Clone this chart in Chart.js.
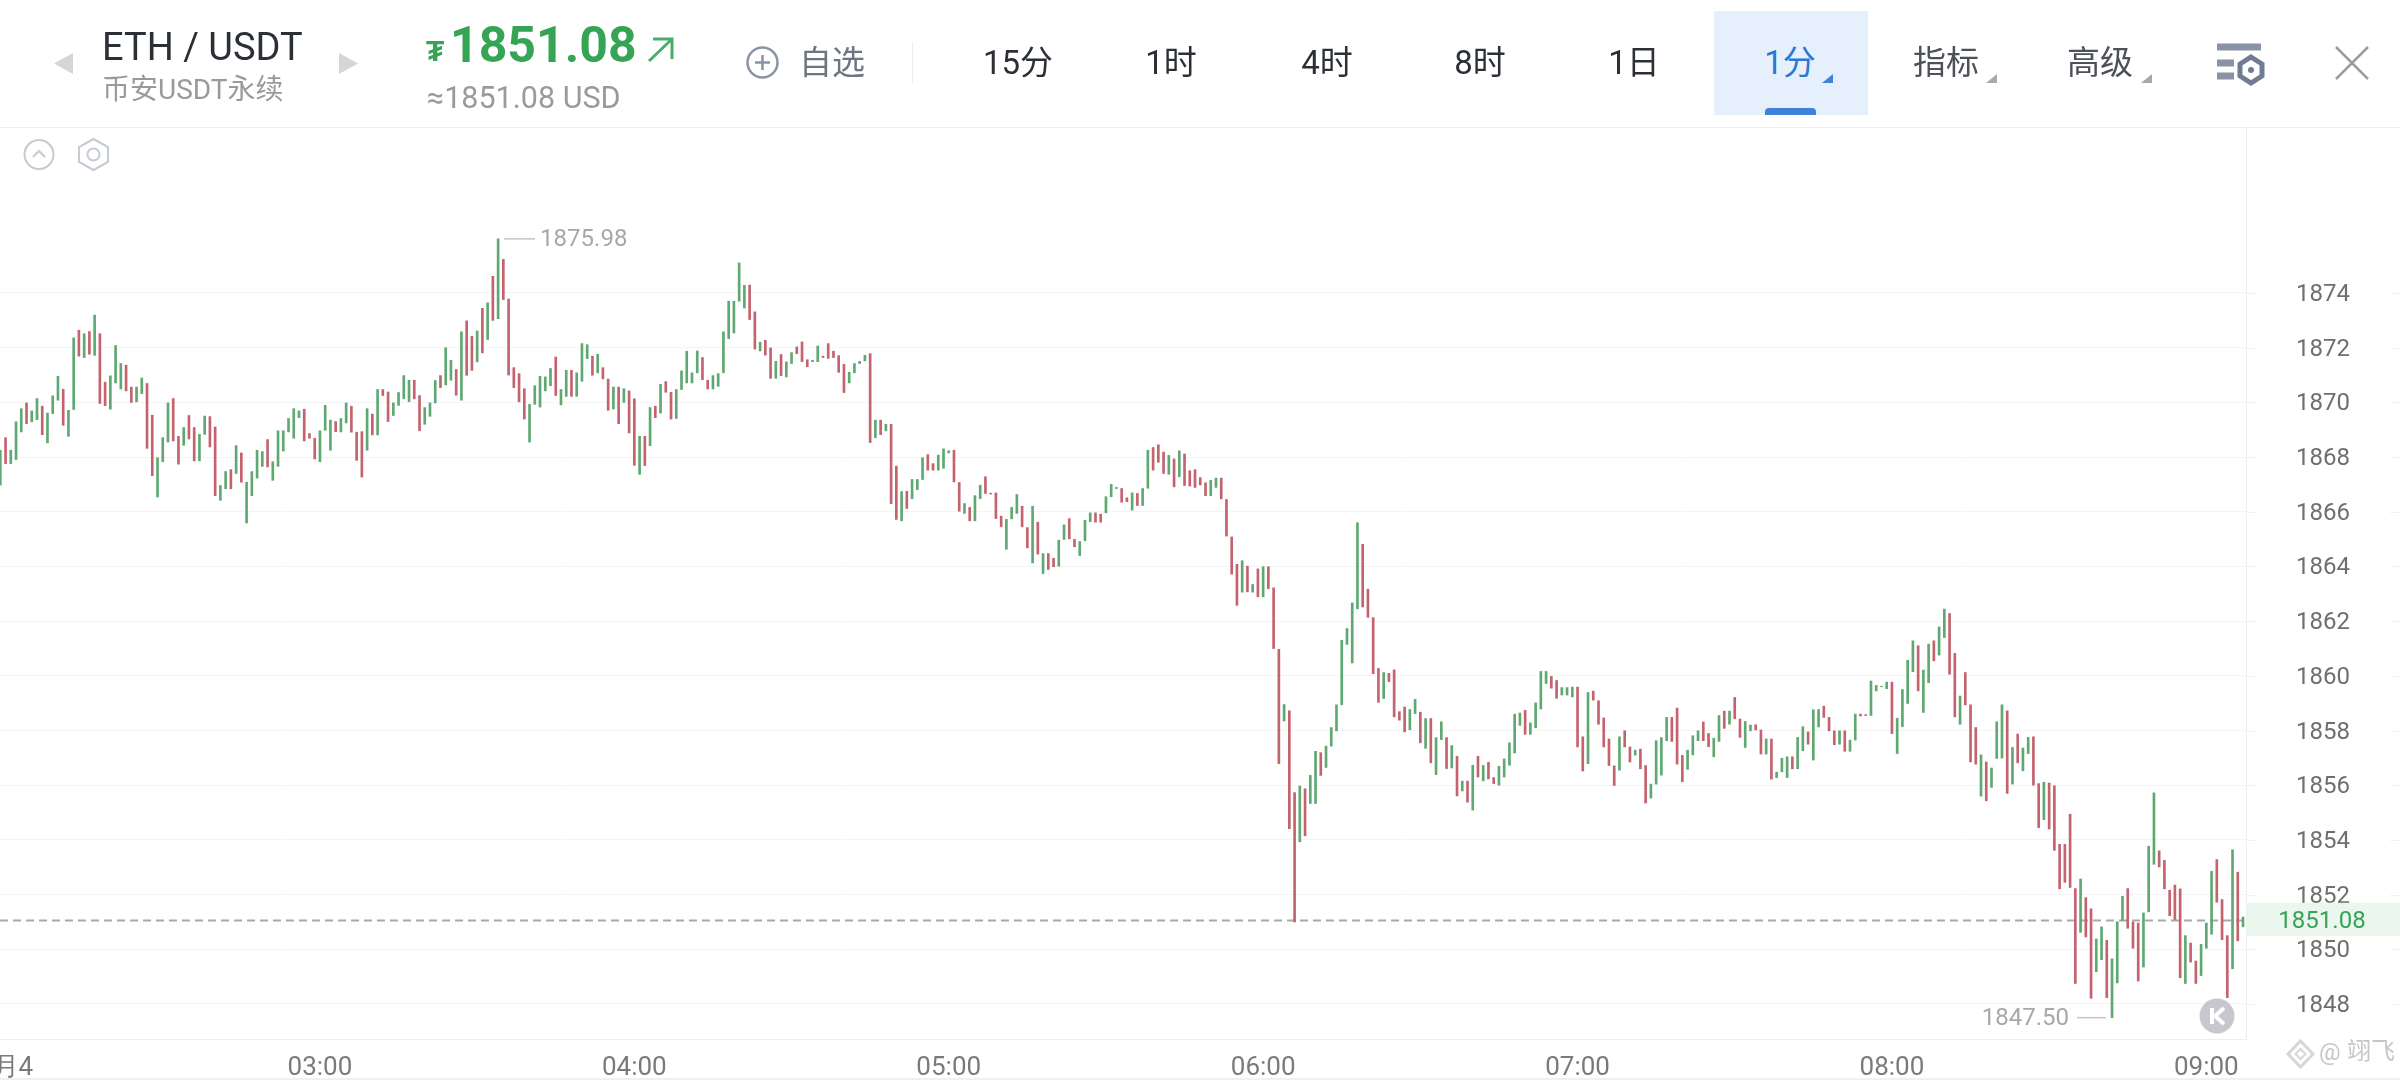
<!DOCTYPE html>
<html lang="zh">
<head>
<meta charset="UTF-8">
<title>ETH / USDT 1分</title>
<script src="https://cdnjs.cloudflare.com/ajax/libs/Chart.js/4.4.1/chart.umd.min.js"></script>
<style>
    html, body { margin: 0; padding: 0; background: #fff; }
    body { width: 2400px; height: 1080px; overflow: hidden; position: relative;
           font-family: Roboto, "Noto Sans CJK SC", sans-serif; }
    canvas { position: absolute; left: 0; top: 0; }
    .t { position: absolute; white-space: nowrap; line-height: 1; }
    .tab { font-size: 33px; color: #2b2f36; transform: translateX(-50%); top: 46px; }
    .box { position: absolute; }
    .tri { position: absolute; width: 0; height: 0; border-style: solid; border-width: 0 0 9px 11px;
           border-color: transparent transparent #a8a8a8 transparent; top: 74px; }
    svg { position: absolute; overflow: visible; }
</style>
</head>
<body>
<canvas id="klineChart" width="2400" height="1080"></canvas>

<!-- header -->
<div class="box" style="left:0;top:127px;width:2400px;height:1px;background:#eeeeee"></div>
<svg style="left:54px;top:53px" width="19" height="21"><path d="M19 0V21L0 10.5Z" fill="#d6d6d6"/></svg>
<svg style="left:339px;top:53px" width="19" height="21"><path d="M0 0V21L19 10.5Z" fill="#d6d6d6"/></svg>
<div class="t" style="left:102px;top:28px;font-size:38px;color:#2b2f36">ETH / USDT</div>
<div class="t" style="left:102px;top:76px;font-size:28px;color:#9a9a9a">币安USDT永续</div>
<div class="t" style="left:426px;top:36px;font-size:30px;font-weight:700;color:#35a455">₮</div>
<div class="t" style="left:450px;top:20px;font-size:50px;font-weight:700;color:#35a455">1851.08</div>
<svg style="left:647px;top:37px" width="27" height="26"><path d="M2 24L25 2M6 2H25V22" fill="none" stroke="#4aad6a" stroke-width="3"/></svg>
<div class="t" style="left:427px;top:83px;font-size:30.5px;color:#9a9a9a">≈1851.08 USD</div>
<svg style="left:746px;top:46px" width="33" height="33"><circle cx="16.5" cy="16.5" r="15" fill="none" stroke="#8a93a6" stroke-width="2.5"/><path d="M16.5 9V24M9 16.5H24" stroke="#8a93a6" stroke-width="2.5"/></svg>
<div class="t" style="left:799px;top:46px;font-size:33px;color:#6e7480">自选</div>
<div class="box" style="left:912px;top:42px;width:1px;height:41px;background:#ececec"></div>

<div class="t tab" style="left:1018px">15分</div>
<div class="t tab" style="left:1171px">1时</div>
<div class="t tab" style="left:1327px">4时</div>
<div class="t tab" style="left:1480px">8时</div>
<div class="t tab" style="left:1634px">1日</div>
<div class="box" style="left:1714px;top:11px;width:154px;height:104px;background:#e5f0fc"></div>
<div class="box" style="left:1765px;top:108px;width:51px;height:7px;background:#3f82d9;border-radius:4px 4px 0 0"></div>
<div class="t tab" style="left:1790px;color:#2a78d4">1分</div>
<div class="tri" style="left:1822px;border-bottom-color:#3f82d9"></div>
<div class="t tab" style="left:1946px;color:#4e5157">指标</div>
<div class="tri" style="left:1986px"></div>
<div class="t tab" style="left:2100px;color:#4e5157">高级</div>
<div class="tri" style="left:2141px"></div>
<svg style="left:2217px;top:44px" width="46" height="40">
    <path d="M0 3H44M0 19H17M0 32H17" stroke="#8a93a6" stroke-width="7" fill="none"/>
    <path d="M34 13L45 20V32L34 39L23 32V20Z" fill="none" stroke="#6f7c92" stroke-width="5"/>
    <circle cx="34" cy="26" r="3" fill="#6f7c92"/>
</svg>
<svg style="left:2335px;top:46px" width="34" height="34"><path d="M1 1L33 33M33 1L1 33" stroke="#9e9e9e" stroke-width="2.5"/></svg>

<!-- chart corner controls -->
<svg style="left:23px;top:138px" width="32" height="33"><circle cx="16" cy="16.5" r="14.5" fill="none" stroke="#c5cad3" stroke-width="2"/><path d="M10 19L16 13L22 19" fill="none" stroke="#c5cad3" stroke-width="2"/></svg>
<svg style="left:77px;top:138px" width="33" height="33"><path d="M16.5 1L31 9V24L16.5 32L2 24V9Z" fill="none" stroke="#c5cad3" stroke-width="2"/><circle cx="16.5" cy="16.5" r="6" fill="none" stroke="#c5cad3" stroke-width="2"/></svg>
<svg style="left:2199px;top:998px" width="36" height="36"><circle cx="18" cy="18" r="17.5" fill="#c6c8ce"/><path d="M13 10V26" stroke="#fff" stroke-width="4"/><path d="M25 10L16 18L25 26" fill="none" stroke="#fff" stroke-width="4"/></svg>

<!-- watermark -->
<svg style="left:2287px;top:1040px" width="27" height="28"><path d="M13.5 1L26 14L13.5 27L1 14Z" fill="none" stroke="#d6d6d6" stroke-width="3"/><path d="M13.5 9L18.5 14L13.5 19L8.5 14Z" fill="none" stroke="#d6d6d6" stroke-width="2"/></svg>
<div class="t" style="left:2319px;top:1040px;font-size:24px;color:#c6c6c6">@</div>
<div class="t" style="left:2347px;top:1039px;font-size:24px;color:#c6c6c6">翊飞</div>
<div class="box" style="left:0;top:1078px;width:2400px;height:2px;background:#f0f0f0"></div>

<script>
    const highs = [
        1868.25,1868.71,1868.25,1869.29,1869.77,1869.98,1869.69,1870.14,1869.86,1869.61,
        1870.24,1870.95,1870.48,1869.71,1872.36,1872.64,1872.51,1872.59,1873.19,1872.51,
        1870.74,1870.97,1872.08,1871.42,1871.36,1870.56,1870.56,1870.89,1870.69,1869.53,
        1867.98,1868.71,1869.98,1870.14,1868.76,1869.08,1869.52,1869.08,1868.83,1869.50,
        1869.48,1869.10,1866.96,1867.47,1867.54,1868.42,1868.15,1867.08,1867.47,1868.25,
        1868.20,1868.64,1867.83,1868.96,1868.96,1869.41,1869.77,1869.69,1869.75,1868.86,
        1868.69,1868.96,1869.89,1869.35,1869.30,1869.41,1869.98,1869.86,1868.91,1868.93,
        1869.77,1869.57,1870.47,1870.47,1870.38,1869.98,1870.36,1870.98,1870.81,1870.81,
        1870.25,1869.81,1869.98,1870.80,1870.98,1872.00,1871.54,1871.20,1872.58,1872.98,
        1872.42,1872.61,1873.44,1873.64,1874.61,1875.98,1875.23,1873.78,1871.27,1871.05,
        1870.50,1869.93,1870.61,1870.95,1870.93,1871.24,1871.66,1870.47,1871.17,1871.17,
        1871.08,1872.15,1872.11,1871.69,1871.76,1871.27,1870.85,1870.56,1870.56,1870.50,
        1870.42,1870.13,1868.76,1868.76,1869.81,1869.86,1870.66,1870.76,1870.37,1870.47,
        1871.15,1871.87,1871.08,1871.88,1871.64,1870.81,1870.98,1871.05,1872.58,1873.70,
        1873.70,1875.10,1874.28,1874.29,1873.31,1872.20,1872.27,1871.99,1871.50,1871.75,
        1871.48,1871.82,1872.03,1872.21,1871.56,1871.54,1872.06,1871.69,1872.15,1871.87,
        1871.71,1871.39,1871.10,1871.42,1871.50,1871.72,1871.78,1869.35,1869.35,1869.20,
        1869.20,1867.67,1866.74,1866.75,1867.18,1867.18,1867.98,1868.09,1867.76,1868.07,
        1868.30,1868.23,1868.25,1867.07,1866.30,1866.16,1866.59,1866.97,1867.28,1866.68,
        1866.69,1865.84,1865.72,1866.16,1866.63,1866.20,1865.42,1866.20,1865.62,1864.47,
        1864.47,1864.30,1864.96,1865.52,1865.75,1864.99,1864.91,1865.69,1865.96,1865.96,
        1865.91,1866.55,1867.00,1866.89,1866.85,1866.51,1866.69,1866.67,1866.85,1868.25,
        1868.35,1868.45,1868.18,1868.06,1867.93,1868.23,1868.11,1867.50,1867.54,1867.25,
        1867.06,1867.15,1867.23,1867.23,1866.45,1865.08,1864.08,1864.21,1864.01,1863.34,
        1863.91,1863.99,1863.99,1863.22,1860.97,1858.95,1858.72,1855.73,1855.97,1855.87,
        1856.36,1857.24,1857.19,1857.43,1858.11,1858.94,1861.30,1861.73,1862.67,1865.60,
        1864.81,1863.17,1862.13,1860.27,1860.12,1860.09,1860.22,1858.69,1858.86,1858.77,
        1859.14,1858.67,1858.44,1858.44,1857.74,1858.32,1857.74,1857.45,1857.06,1856.15,
        1856.15,1856.73,1857.06,1856.72,1856.84,1856.28,1856.69,1856.96,1857.55,1858.60,
        1858.64,1858.74,1858.28,1859.01,1860.16,1860.16,1859.98,1859.83,1859.57,1859.57,
        1859.59,1859.59,1857.77,1859.39,1859.44,1859.09,1858.46,1857.69,1856.71,1857.77,
        1857.99,1857.40,1857.28,1857.32,1856.72,1856.04,1857.63,1857.74,1858.48,1858.48,
        1858.82,1857.09,1857.28,1857.81,1857.99,1858.31,1857.89,1857.72,1858.55,1858.71,
        1858.71,1859.21,1858.42,1858.33,1858.20,1858.21,1858.02,1857.69,1857.69,1856.48,
        1856.99,1857.04,1857.04,1857.75,1858.14,1857.95,1858.76,1858.77,1858.89,1858.48,
        1857.99,1857.99,1857.99,1857.65,1858.60,1858.60,1858.58,1859.81,1859.65,1859.62,
        1859.77,1859.77,1858.45,1859.50,1860.57,1861.28,1861.10,1860.21,1861.16,1861.28,
        1861.79,1862.44,1862.28,1860.82,1859.26,1860.12,1858.94,1858.11,1857.11,1856.85,
        1856.63,1858.32,1858.94,1858.72,1857.38,1857.87,1857.36,1857.75,1857.77,1856.06,
        1856.11,1856.08,1855.98,1853.84,1853.84,1854.94,1852.22,1852.57,1851.89,1851.48,
        1850.38,1850.82,1850.33,1849.65,1851.01,1851.94,1852.22,1851.00,1850.96,1851.33,
        1853.77,1855.72,1853.60,1853.25,1852.16,1852.35,1852.21,1850.50,1850.23,1849.57,
        1850.18,1850.96,1852.85,1853.28,1851.82,1850.50,1853.64,1852.82,1851.18
    ];
    const lows = [
        1866.97,1867.76,1867.76,1867.91,1868.92,1869.22,1869.29,1869.37,1868.82,1868.52,
        1869.59,1870.08,1869.16,1868.76,1869.74,1871.69,1871.64,1871.76,1871.72,1869.96,
        1869.88,1869.75,1870.71,1870.49,1870.42,1870.00,1870.02,1870.32,1868.32,1867.32,
        1866.54,1867.83,1868.55,1868.59,1867.74,1868.43,1868.66,1867.86,1867.86,1868.83,
        1868.37,1866.59,1866.42,1866.84,1866.84,1867.40,1867.08,1865.59,1866.59,1867.23,
        1867.66,1867.64,1867.15,1867.66,1868.22,1868.92,1868.69,1869.44,1868.59,1868.69,
        1867.93,1867.83,1868.98,1868.25,1868.93,1868.92,1869.25,1868.91,1867.88,1867.27,
        1868.25,1868.81,1868.81,1870.25,1869.30,1869.52,1869.89,1870.13,1870.03,1870.13,
        1868.96,1869.20,1869.49,1869.98,1870.54,1870.64,1870.81,1870.26,1870.08,1870.99,
        1871.17,1871.48,1871.81,1872.30,1873.00,1873.06,1873.76,1871.00,1870.54,1870.02,
        1869.39,1868.55,1869.93,1869.83,1870.42,1870.61,1870.25,1869.91,1870.22,1870.22,
        1870.22,1870.77,1871.60,1870.99,1871.08,1870.86,1869.71,1869.76,1869.22,1870.00,
        1868.88,1867.70,1867.37,1867.69,1868.42,1869.44,1869.61,1870.37,1869.39,1869.41,
        1870.47,1870.71,1870.71,1871.08,1870.83,1870.49,1870.49,1870.59,1871.08,1872.33,
        1872.54,1873.70,1873.45,1873.03,1871.95,1871.88,1871.73,1870.88,1870.88,1870.98,
        1870.93,1871.42,1871.78,1871.49,1871.30,1871.49,1871.49,1871.64,1871.61,1871.64,
        1871.10,1870.36,1870.71,1871.08,1871.42,1871.52,1868.53,1868.71,1868.82,1868.96,
        1866.30,1865.72,1865.67,1866.12,1866.48,1866.81,1867.18,1867.52,1867.52,1867.52,
        1867.59,1868.15,1867.09,1866.02,1865.94,1865.67,1865.67,1866.48,1866.67,1866.65,
        1865.75,1865.45,1864.63,1865.74,1865.94,1865.45,1864.68,1864.13,1864.45,1863.74,
        1863.89,1863.99,1864.01,1864.99,1865.01,1864.72,1864.40,1864.94,1865.64,1865.62,
        1865.62,1865.96,1866.55,1866.85,1866.35,1866.37,1866.06,1866.23,1866.23,1866.86,
        1867.52,1867.81,1867.40,1867.37,1866.91,1867.28,1866.96,1866.94,1866.89,1866.98,
        1866.59,1866.59,1866.89,1866.47,1865.11,1863.72,1862.58,1863.06,1863.07,1863.06,
        1862.89,1862.89,1863.19,1861.00,1856.79,1858.35,1854.41,1851.00,1853.93,1854.15,
        1855.33,1855.33,1856.36,1856.65,1857.43,1857.99,1858.94,1861.15,1860.47,1862.45,
        1862.52,1862.14,1860.08,1859.03,1859.17,1859.79,1858.50,1858.38,1857.95,1858.03,
        1858.62,1857.55,1857.35,1856.82,1856.39,1857.67,1856.61,1856.63,1855.61,1855.79,
        1855.38,1855.09,1856.30,1856.16,1856.23,1856.06,1856.00,1856.30,1856.73,1857.18,
        1858.19,1857.86,1857.86,1858.10,1858.79,1859.72,1859.55,1859.18,1859.30,1859.30,
        1859.23,1857.40,1856.52,1856.79,1859.11,1858.23,1857.40,1856.72,1855.99,1856.55,
        1857.40,1856.85,1857.10,1856.60,1855.35,1855.53,1856.04,1856.37,1857.63,1857.60,
        1856.77,1856.13,1856.58,1857.11,1857.63,1857.63,1857.41,1857.04,1857.60,1858.08,
        1858.23,1858.43,1857.75,1857.38,1857.99,1858.02,1857.14,1857.14,1856.22,1856.28,
        1856.49,1856.28,1856.60,1856.60,1857.26,1857.50,1856.92,1858.13,1858.48,1857.99,
        1857.48,1857.50,1857.24,1857.24,1857.65,1858.53,1858.55,1858.55,1859.45,1859.60,
        1859.53,1857.89,1857.16,1858.14,1858.99,1860.15,1859.45,1858.66,1859.75,1860.55,
        1860.76,1861.40,1860.06,1858.50,1858.23,1858.94,1856.85,1856.77,1855.60,1855.43,
        1855.92,1856.98,1856.99,1855.70,1856.04,1856.82,1856.53,1857.16,1856.00,1854.45,
        1854.74,1854.40,1853.62,1852.21,1852.45,1852.26,1848.75,1850.62,1850.45,1848.21,
        1849.18,1849.62,1848.23,1847.50,1848.77,1851.06,1850.77,1850.04,1848.84,1849.35,
        1851.37,1853.11,1853.01,1852.21,1851.23,1851.09,1848.96,1848.75,1849.53,1848.75,
        1849.04,1850.04,1850.55,1851.72,1850.35,1848.23,1849.29,1850.31,1850.82
    ];
    // 1 = green bar, 0 = red bar
    const upBars = [
        1,0,1,1,1,0,1,1,0,1, 1,1,0,1,1,0,1,0,1,0, 0,1,1,1,0,0,1,1,0,0, 1,1,1,0,0,1,0,0,1,1,
        0,0,1,1,0,1,0,1,1,1, 1,0,1,1,1,1,1,1,0,0, 0,1,1,1,0,1,1,0,0,0, 1,0,1,0,0,1,1,1,1,0,
        0,1,1,1,0,1,1,0,1,0, 0,1,0,1,0,1,0,0,0,0, 0,1,1,1,1,1,0,1,1,0, 1,1,1,0,1,0,0,1,0,1,
        0,0,1,0,1,0,1,0,0,1, 1,1,1,1,0,0,1,1,1,1, 1,1,1,0,0,1,0,0,1,0, 1,1,0,0,0,1,1,0,0,0,
        0,0,1,1,1,1,0,1,0,1, 0,0,1,0,1,1,1,0,0,1, 1,1,0,0,1,0,1,1,0,0, 0,0,1,1,1,0,0,1,0,1,
        0,0,1,1,0,0,1,1,1,0, 0,1,1,1,0,0,1,0,1,1, 0,0,0,1,0,1,0,0,0,0, 0,1,1,0,0,0,0,1,0,1,
        0,1,0,0,0,1,0,0,1,0, 1,1,0,1,1,1,1,1,1,1, 0,0,0,0,1,0,0,0,0,1, 1,0,1,0,1,1,0,1,0,1,
        0,1,0,1,0,0,1,1,1,1, 1,0,1,1,1,1,0,0,1,1, 1,0,0,1,0,0,0,0,0,1, 0,0,1,0,0,1,1,1,1,0,
        0,0,1,1,1,0,0,1,1,0, 1,0,0,1,1,0,0,1,0,1, 1,1,0,1,1,0,1,1,0,0, 0,1,0,1,1,0,0,1,1,1,
        1,0,1,1,1,1,0,1,1,0, 1,1,0,0,1,0,0,0,1,0, 1,1,1,0,1,0,1,1,0,0, 1,0,0,0,0,0,0,1,0,0,
        1,1,0,1,1,1,0,0,0,1, 1,1,0,0,0,0,0,1,0,0, 1,1,1,0,0,0,1,0,1
    ];
    const timeTicks = [1, 61, 121, 181, 241, 301, 361, 421];
    const timeLabels = ['6月4', '03:00', '04:00', '05:00', '06:00', '07:00', '08:00', '09:00'];
    const priceTicks = [1848, 1850, 1852, 1854, 1856, 1858, 1860, 1862, 1864, 1866, 1868, 1870, 1872, 1874];
    const lastPrice = 1851.08;
    const peak = { index: 95, price: 1875.98 };
    const trough = { index: 403, price: 1847.50 };

    const GREEN = '#5ea871';
    const RED = '#c4626e';

    const overlay = {
        id: 'overlay',
        beforeDatasetsDraw(chart) {
            const { ctx, chartArea, scales: { y } } = chart;
            const py = Math.round(y.getPixelForValue(lastPrice)) + 0.5;
            ctx.save();
            ctx.strokeStyle = '#a9a9a9';
            ctx.lineWidth = 2;
            ctx.setLineDash([8, 5]);
            ctx.beginPath();
            ctx.moveTo(chartArea.left, py);
            ctx.lineTo(chartArea.right, py);
            ctx.stroke();
            ctx.restore();
        },
        afterDraw(chart) {
            const { ctx, chartArea, scales: { x, y } } = chart;
            ctx.save();
            // short price marks left and right of the axis labels
            ctx.strokeStyle = '#f2f2f2';
            ctx.lineWidth = 1;
            priceTicks.forEach(p => {
                const py = Math.round(y.getPixelForValue(p)) + 0.5;
                ctx.beginPath();
                ctx.moveTo(chartArea.right, py);
                ctx.lineTo(chartArea.right + 10, py);
                ctx.moveTo(2390, py);
                ctx.lineTo(2400, py);
                ctx.stroke();
            });

            // last price tag
            const py = y.getPixelForValue(lastPrice);
            ctx.fillStyle = '#eaf6ee';
            ctx.fillRect(chartArea.right + 1, py - 17, 154, 33);
            ctx.fillStyle = '#35a455';
            ctx.font = '24px Roboto';
            ctx.textAlign = 'center';
            ctx.textBaseline = 'middle';
            ctx.fillText(lastPrice.toFixed(2), 2322, py + 2);

            // high / low marks
            ctx.fillStyle = '#a8a8a8';
            ctx.strokeStyle = '#c4c4c4';
            ctx.lineWidth = 1.5;
            const hx = x.getPixelForValue(peak.index), hy = y.getPixelForValue(peak.price);
            ctx.beginPath();
            ctx.moveTo(hx + 6, hy);
            ctx.lineTo(hx + 37, hy);
            ctx.stroke();
            ctx.textAlign = 'left';
            ctx.fillText(peak.price.toFixed(2), hx + 42, hy + 1);
            const lx = x.getPixelForValue(trough.index), ly = y.getPixelForValue(trough.price);
            ctx.beginPath();
            ctx.moveTo(lx - 35, ly);
            ctx.lineTo(lx - 6, ly);
            ctx.stroke();
            ctx.textAlign = 'right';
            ctx.fillText(trough.price.toFixed(2), lx - 43, ly + 1);
            ctx.restore();
        }
    };

    new Chart(document.getElementById('klineChart'), {
        type: 'bar',
        data: {
            labels: highs.map((_, i) => i),
            datasets: [{
                data: highs.map((h, i) => [lows[i], h]),
                backgroundColor: upBars.map(u => u ? GREEN : RED),
                borderWidth: 0,
                barThickness: 2
            }]
        },
        plugins: [overlay],
        options: {
            responsive: false,
            devicePixelRatio: 1,
            animation: false,
            layout: { padding: { top: 127, left: 0, right: 0, bottom: 0 } },
            plugins: { legend: { display: false }, tooltip: { enabled: false } },
            scales: {
                x: {
                    type: 'linear',
                    offset: false,
                    min: -0.06,
                    max: 428.57,
                    grid: { display: false, offset: false },
                    border: { display: true, color: '#eeeeee' },
                    afterBuildTicks: s => { s.ticks = timeTicks.map(v => ({ value: v })); },
                    afterFit: s => { s.height = 41; s.paddingLeft = 0; s.paddingRight = 0; },
                    ticks: {
                        autoSkip: false,
                        maxRotation: 0,
                        padding: 6,
                        color: '#7a7a7a',
                        font: { family: 'Roboto', size: 26 },
                        callback: v => timeLabels[timeTicks.indexOf(v)]
                    }
                },
                y: {
                    position: 'right',
                    min: 1846.72,
                    max: 1880.07,
                    grid: { color: '#f4f4f4', drawTicks: false },
                    border: { display: true, color: '#eeeeee' },
                    afterBuildTicks: s => { s.ticks = priceTicks.map(v => ({ value: v })); },
                    afterFit: s => { s.width = 154; s.paddingTop = 0; s.paddingBottom = 0; },
                    ticks: {
                        padding: 50,
                        labelOffset: 2,
                        color: '#6f6f6f',
                        font: { family: 'Roboto', size: 24 },
                        callback: v => String(v)
                    }
                }
            }
        }
    });
</script>
</body>
</html>
